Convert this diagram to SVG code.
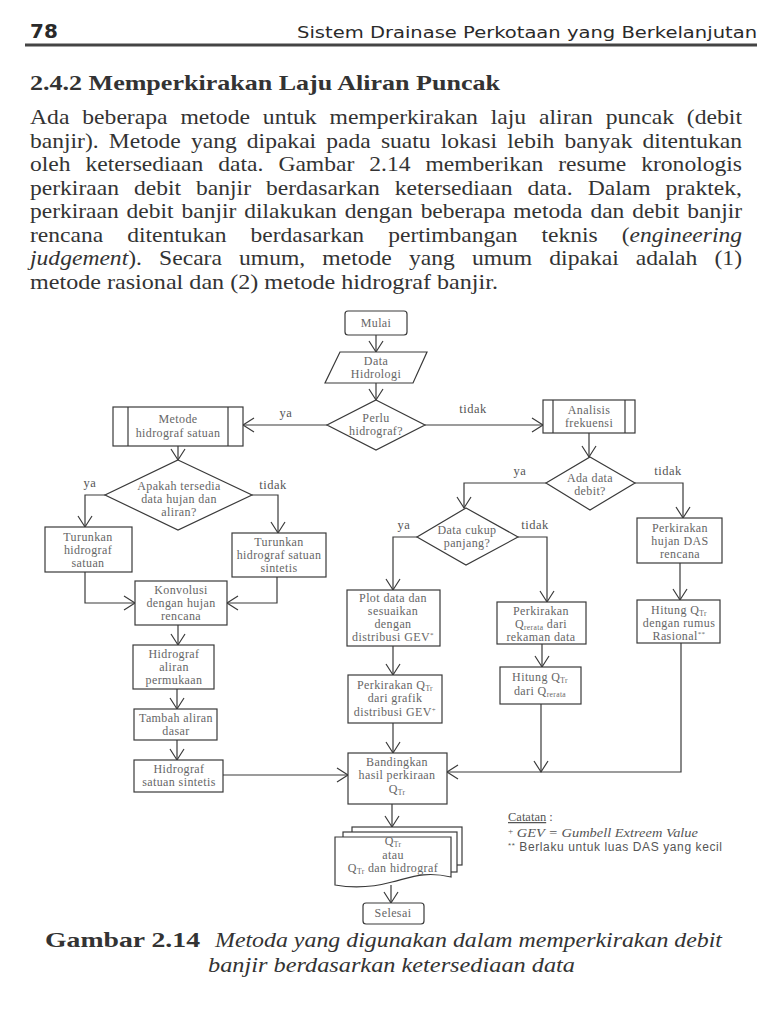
<svg xmlns="http://www.w3.org/2000/svg" width="768" height="1024" viewBox="0 0 768 1024">
<defs>
<marker id="arr" markerUnits="userSpaceOnUse" markerWidth="14" markerHeight="16" refX="12" refY="8" orient="auto">
<path d="M1,1 L12,8 L1,15" fill="none" stroke="#3a3a3a" stroke-width="1.2"/>
</marker>
<style>
.bg{fill:#ffffff}
.hdr{font-family:"DejaVu Sans","Liberation Sans",sans-serif;fill:#2a2a2a}
.body{font-family:"Liberation Serif","Times New Roman",serif;font-size:22px;fill:#333}
.head{font-family:"Liberation Serif","Times New Roman",serif;font-size:22px;font-weight:bold;fill:#333}
.n rect,.n polygon,.n path{fill:#fff;stroke:#3a3a3a;stroke-width:1.2}
.n line{stroke:#3a3a3a;stroke-width:1.2}
.t{font-family:"Liberation Serif","Times New Roman",serif;font-size:12px;fill:#666;text-anchor:middle;letter-spacing:0.4px}
.lbl{font-family:"Liberation Serif","Times New Roman",serif;font-size:12.5px;fill:#555;text-anchor:middle;letter-spacing:0.5px}
.c path,.c line{fill:none;stroke:#3a3a3a;stroke-width:1.2;marker-end:url(#arr)}
.note{font-family:"Liberation Serif","Times New Roman",serif;font-size:12.5px;fill:#555}
.cap{font-family:"Liberation Serif","Times New Roman",serif;font-size:22px;fill:#333}
.sub{font-size:7.5px}
</style>
</defs>
<rect class="bg" x="0" y="0" width="768" height="1024"/>

<!-- header -->
<text class="hdr" x="30" y="38" font-size="20" font-weight="bold">78</text>
<text class="hdr" x="757" y="38" font-size="16" text-anchor="end" textLength="460" lengthAdjust="spacingAndGlyphs">Sistem Drainase Perkotaan yang Berkelanjutan</text>
<rect x="25" y="43.5" width="732" height="3" fill="#444"/>

<text class="head" x="30" y="90" textLength="470" lengthAdjust="spacingAndGlyphs">2.4.2 Memperkirakan Laju Aliran Puncak</text>

<!-- paragraph -->
<text class="body" x="30" y="124" word-spacing="6.5" textLength="712" lengthAdjust="spacingAndGlyphs">Ada beberapa metode untuk memperkirakan laju aliran puncak (debit</text>
<text class="body" x="30" y="147.5" word-spacing="4" textLength="712" lengthAdjust="spacingAndGlyphs">banjir). Metode yang dipakai pada suatu lokasi lebih banyak ditentukan</text>
<text class="body" x="30" y="171" word-spacing="8.5" textLength="712" lengthAdjust="spacingAndGlyphs">oleh ketersediaan data. Gambar 2.14 memberikan resume kronologis</text>
<text class="body" x="30" y="194.5" word-spacing="8.5" textLength="712" lengthAdjust="spacingAndGlyphs">perkiraan debit banjir berdasarkan ketersediaan data. Dalam praktek,</text>
<text class="body" x="30" y="218" word-spacing="2" textLength="712" lengthAdjust="spacingAndGlyphs">perkiraan debit banjir dilakukan dengan beberapa metoda dan debit banjir</text>
<text class="body" x="30" y="241.5" word-spacing="17" textLength="712" lengthAdjust="spacingAndGlyphs">rencana ditentukan berdasarkan pertimbangan teknis (<tspan font-style="italic">engineering</tspan></text>
<text class="body" x="30" y="265" word-spacing="10.5" textLength="712" lengthAdjust="spacingAndGlyphs"><tspan font-style="italic">judgement</tspan>). Secara umum, metode yang umum dipakai adalah (1)</text>
<text class="body" x="30" y="288.5" textLength="468" lengthAdjust="spacingAndGlyphs">metode rasional dan (2) metode hidrograf banjir.</text>

<!-- connectors -->
<g id="connectors" class="c">
<line x1="376" y1="335" x2="376" y2="352"/>
<line x1="376" y1="383" x2="376" y2="400"/>
<line x1="327" y1="425" x2="243" y2="425"/>
<line x1="425" y1="425" x2="543" y2="425"/>
<line x1="178" y1="446" x2="178" y2="460"/>
<path d="M105,495 H85 V527"/>
<path d="M252,495 H278 V533"/>
<path d="M85,572 V603 H135"/>
<path d="M277,577 V603 H227"/>
<line x1="178" y1="625" x2="178" y2="645"/>
<line x1="177" y1="689" x2="177" y2="709"/>
<line x1="177" y1="740" x2="177" y2="760"/>
<line x1="223" y1="775" x2="348" y2="775"/>
<line x1="589" y1="433" x2="589" y2="457"/>
<path d="M546,483 H464 V508"/>
<path d="M635,483 H683 V518"/>
<path d="M417,537 H393 V590"/>
<path d="M518,537 H547 V602"/>
<line x1="680" y1="563" x2="680" y2="600"/>
<line x1="393" y1="646" x2="393" y2="675"/>
<line x1="542" y1="644" x2="542" y2="667"/>
<line x1="393" y1="723" x2="393" y2="753"/>
<line x1="541" y1="704" x2="541" y2="772"/>
<path d="M681,643 V772 H447"/>
<line x1="392" y1="804" x2="392" y2="827"/>
<line x1="391" y1="885" x2="391" y2="903"/>
</g>

<!-- edge labels -->
<g id="labels">
<text class="lbl" x="286" y="417">ya</text>
<text class="lbl" x="473" y="413">tidak</text>
<text class="lbl" x="90" y="487">ya</text>
<text class="lbl" x="273" y="489">tidak</text>
<text class="lbl" x="520" y="475">ya</text>
<text class="lbl" x="668" y="475">tidak</text>
<text class="lbl" x="404" y="529">ya</text>
<text class="lbl" x="535" y="529">tidak</text>
</g>

<!-- nodes -->
<g id="mulai" class="n">
<rect x="345" y="311" width="62" height="24" rx="3"/>
<text class="t" x="376" y="327">Mulai</text>
</g>
<g id="data-hidrologi" class="n">
<polygon points="340,352 427,352 413,383 325,383"/>
<text class="t" x="376" y="365">Data</text>
<text class="t" x="376" y="378">Hidrologi</text>
</g>
<g id="perlu-hidrograf" class="n">
<polygon points="376,400 425,425 376,450 327,425"/>
<text class="t" x="376" y="422">Perlu</text>
<text class="t" x="376" y="435">hidrograf?</text>
</g>
<g id="metode-hidrograf-satuan" class="n">
<rect x="113" y="407" width="130" height="39"/>
<line x1="128" y1="407" x2="128" y2="446"/>
<line x1="228" y1="407" x2="228" y2="446"/>
<text class="t" x="178" y="423">Metode</text>
<text class="t" x="178" y="437">hidrograf satuan</text>
</g>
<g id="analisis-frekuensi" class="n">
<rect x="543" y="400" width="92" height="33"/>
<line x1="553" y1="400" x2="553" y2="433"/>
<line x1="625" y1="400" x2="625" y2="433"/>
<text class="t" x="589" y="414">Analisis</text>
<text class="t" x="589" y="427">frekuensi</text>
</g>
<g id="apakah-tersedia" class="n">
<polygon points="178,460 252,495 178,530 105,495"/>
<text class="t" x="179" y="490">Apakah tersedia</text>
<text class="t" x="179" y="503">data hujan dan</text>
<text class="t" x="179" y="516">aliran?</text>
</g>
<g id="turunkan-hidrograf-satuan" class="n">
<rect x="45" y="527" width="87" height="45"/>
<text class="t" x="88" y="541">Turunkan</text>
<text class="t" x="88" y="554">hidrograf</text>
<text class="t" x="88" y="567">satuan</text>
</g>
<g id="turunkan-hidrograf-sintetis" class="n">
<rect x="232" y="533" width="94" height="44"/>
<text class="t" x="279" y="546">Turunkan</text>
<text class="t" x="279" y="559">hidrograf satuan</text>
<text class="t" x="279" y="572">sintetis</text>
</g>
<g id="konvolusi" class="n">
<rect x="135" y="581" width="92" height="44"/>
<text class="t" x="181" y="594">Konvolusi</text>
<text class="t" x="181" y="607">dengan hujan</text>
<text class="t" x="181" y="620">rencana</text>
</g>
<g id="hidrograf-aliran-permukaan" class="n">
<rect x="133" y="645" width="81" height="44"/>
<text class="t" x="174" y="658">Hidrograf</text>
<text class="t" x="174" y="671">aliran</text>
<text class="t" x="174" y="684">permukaan</text>
</g>
<g id="tambah-aliran-dasar" class="n">
<rect x="134" y="709" width="83" height="31"/>
<text class="t" x="176" y="722">Tambah aliran</text>
<text class="t" x="176" y="735">dasar</text>
</g>
<g id="hidrograf-satuan-sintetis" class="n">
<rect x="134" y="760" width="89" height="32"/>
<text class="t" x="179" y="773">Hidrograf</text>
<text class="t" x="179" y="786">satuan sintetis</text>
</g>
<g id="ada-data-debit" class="n">
<polygon points="590,457 635,483 590,510 546,483"/>
<text class="t" x="590" y="482">Ada data</text>
<text class="t" x="590" y="495">debit?</text>
</g>
<g id="data-cukup-panjang" class="n">
<polygon points="466,508 518,537 466,565 417,537"/>
<text class="t" x="467" y="534">Data cukup</text>
<text class="t" x="467" y="547">panjang?</text>
</g>
<g id="plot-data" class="n">
<rect x="347" y="590" width="93" height="56"/>
<text class="t" x="393" y="602">Plot data dan</text>
<text class="t" x="393" y="615">sesuaikan</text>
<text class="t" x="393" y="628">dengan</text>
<text class="t" x="393" y="641">distribusi GEV<tspan dy="-4" font-size="7">*</tspan></text>
</g>
<g id="perkirakan-qrerata" class="n">
<rect x="497" y="602" width="89" height="42"/>
<text class="t" x="541" y="615">Perkirakan</text>
<text class="t" x="541" y="628">Q<tspan class="sub" dy="2">rerata</tspan><tspan dy="-2"> dari</tspan></text>
<text class="t" x="541" y="641">rekaman data</text>
</g>
<g id="perkirakan-hujan-das" class="n">
<rect x="637" y="518" width="85" height="45"/>
<text class="t" x="680" y="532">Perkirakan</text>
<text class="t" x="680" y="545">hujan DAS</text>
<text class="t" x="680" y="558">rencana</text>
</g>
<g id="hitung-rasional" class="n">
<rect x="637" y="600" width="83" height="43"/>
<text class="t" x="679" y="614">Hitung Q<tspan class="sub" dy="2">Tr</tspan></text>
<text class="t" x="679" y="627">dengan rumus</text>
<text class="t" x="679" y="640">Rasional<tspan dy="-4" font-size="7">**</tspan></text>
</g>
<g id="perkirakan-qtr-gev" class="n">
<rect x="348" y="675" width="94" height="48"/>
<text class="t" x="395" y="689">Perkirakan Q<tspan class="sub" dy="2">Tr</tspan></text>
<text class="t" x="395" y="702">dari grafik</text>
<text class="t" x="395" y="716">distribusi GEV<tspan dy="-4" font-size="7">+</tspan></text>
</g>
<g id="hitung-qtr-qrerata" class="n">
<rect x="500" y="667" width="81" height="37"/>
<text class="t" x="540" y="681">Hitung Q<tspan class="sub" dy="2">Tr</tspan></text>
<text class="t" x="540" y="695">dari Q<tspan class="sub" dy="2">rerata</tspan></text>
</g>
<g id="bandingkan" class="n">
<rect x="348" y="753" width="99" height="51"/>
<text class="t" x="397" y="766">Bandingkan</text>
<text class="t" x="397" y="779">hasil perkiraan</text>
<text class="t" x="397" y="793">Q<tspan class="sub" dy="2">Tr</tspan></text>
</g>
<g id="hasil-qtr" class="n">
<rect x="352" y="827" width="110" height="38"/>
<rect x="343" y="832" width="114" height="40"/>
<path d="M335,837 H451 V877 C425,871 412,877 392,882 C370,888 352,888 335,885 Z"/>
<text class="t" x="393" y="845">Q<tspan class="sub" dy="2">Tr</tspan></text>
<text class="t" x="393" y="858.5">atau</text>
<text class="t" x="393" y="872">Q<tspan class="sub" dy="2">Tr</tspan><tspan dy="-2"> dan hidrograf</tspan></text>
</g>
<g id="selesai" class="n">
<rect x="363" y="903" width="61" height="21" rx="3"/>
<text class="t" x="393" y="917">Selesai</text>
</g>

<!-- notes -->
<g id="catatan">
<text class="note" x="508" y="821"><tspan text-decoration="underline">Catatan</tspan> :</text>
<text class="note" x="508" y="837" textLength="190" lengthAdjust="spacingAndGlyphs"><tspan dy="-3" font-size="8">+</tspan><tspan dy="3" font-style="italic"> GEV = Gumbell Extreem Value</tspan></text>
<text x="508" y="851" font-family="Liberation Sans, Arial, sans-serif" font-size="12" fill="#555" textLength="214" lengthAdjust="spacing"><tspan dy="-3" font-size="8">**</tspan><tspan dy="3"> Berlaku untuk luas DAS yang kecil</tspan></text>
</g>

<!-- caption -->
<text class="cap" x="45" y="947" font-weight="bold" textLength="155" lengthAdjust="spacingAndGlyphs">Gambar 2.14</text>
<text class="cap" x="215" y="947" font-style="italic" textLength="507" lengthAdjust="spacingAndGlyphs">Metoda yang digunakan dalam memperkirakan debit</text>
<text class="cap" x="208" y="972" font-style="italic" textLength="367" lengthAdjust="spacingAndGlyphs">banjir berdasarkan ketersediaan data</text>
</svg>
